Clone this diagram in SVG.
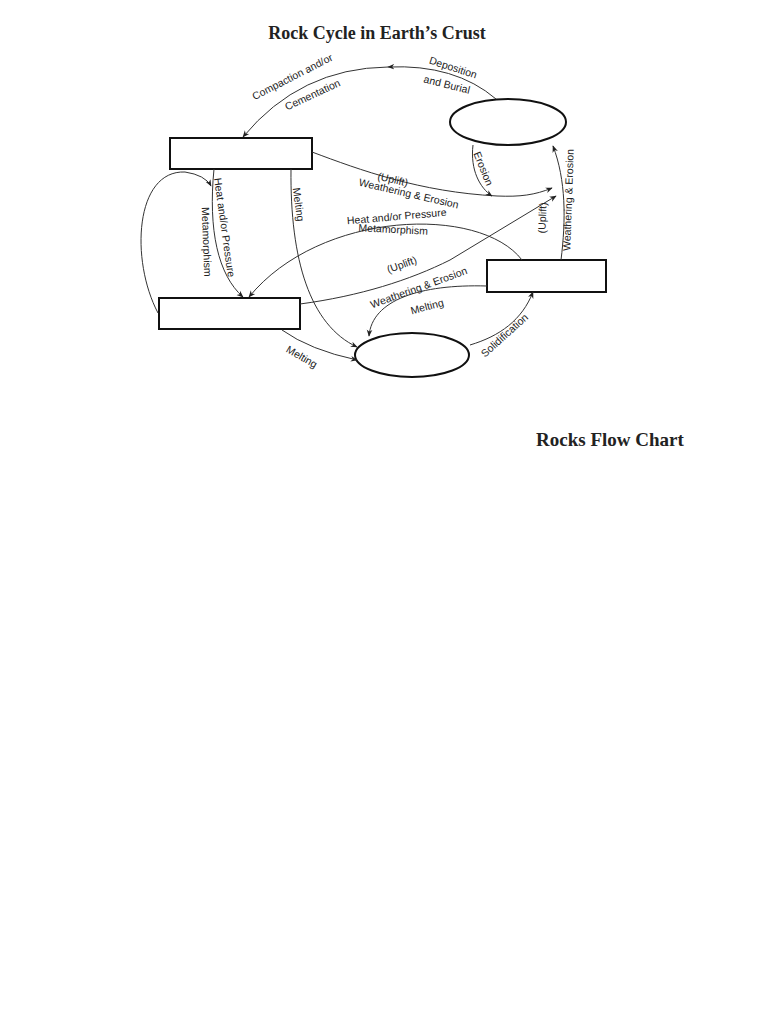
<svg xmlns="http://www.w3.org/2000/svg" width="768" height="1024" viewBox="0 0 768 1024">
<defs>
<marker id="ah" viewBox="0 0 10 10" refX="9" refY="5" markerWidth="7" markerHeight="7" orient="auto"><path d="M0,1 L10,5 L0,9 L3,5 z" fill="#222"/></marker>
<style>
.n{fill:#fff;stroke:#111;stroke-width:2}
.c{fill:none;stroke:#333;stroke-width:1;marker-end:url(#ah)}
.c2{fill:none;stroke:#333;stroke-width:1}
.l{font-family:"Liberation Sans",Arial,sans-serif;font-size:10.5px;fill:#222;text-anchor:middle}
.t{font-family:"Liberation Serif","Times New Roman",serif;font-weight:bold;fill:#222}
</style>
</defs>
<rect width="768" height="1024" fill="#fff"/>
<text class="t" x="377" y="39" font-size="18" text-anchor="middle">Rock Cycle in Earth’s Crust</text>
<text class="t" x="610" y="446" font-size="19" text-anchor="middle">Rocks Flow Chart</text>
<g id="sediment"><ellipse class="n" cx="508" cy="122" rx="58" ry="23"/></g>
<g id="sedrock"><rect class="n" x="170" y="138" width="142" height="31"/></g>
<g id="metrock"><rect class="n" x="159" y="298" width="141" height="31"/></g>
<g id="igrock"><rect class="n" x="487" y="260" width="119" height="32"/></g>
<g id="magma"><ellipse class="n" cx="412" cy="355" rx="57" ry="22"/></g>
<g id="connectors">
<path class="c" d="M496,99 Q455,64 388,67"/>
<path class="c" d="M388,67 Q300,68 243,137"/>
<path class="c2" d="M312,152 C360,170 420,192 497,196"/>
<path class="c" d="M497,196 C520,197 535,195 552,188"/>
<path class="c" d="M473,145 C470,170 480,188 492,196"/>
<path class="c" d="M561,260 C566,220 566,180 553,146"/>
<path class="c" d="M300,304 C360,296 410,280 450,260 L556,196"/>
<path class="c" d="M522,260 C480,205 320,210 249,297"/>
<path class="c" d="M214,169 C208,230 218,275 243,297"/>
<path class="c" d="M158,313 C130,260 135,170 185,172 Q205,175 211,186"/>
<path class="c" d="M291,169 C290,260 310,325 357,347"/>
<path class="c" d="M282,330 Q310,350 357,360"/>
<path class="c" d="M487,286 C420,284 372,300 369,336"/>
<path class="c" d="M470,345 C500,336 522,320 533,292"/>
</g>
<g id="labels">
<text class="l" transform="translate(452,71) rotate(18)">Deposition</text>
<text class="l" transform="translate(446,88) rotate(14)">and Burial</text>
<text class="l" transform="translate(294,80) rotate(-27)">Compaction and/or</text>
<text class="l" transform="translate(314,98) rotate(-25)">Cementation</text>
<text class="l" transform="translate(392,183) rotate(13)">(Uplift)</text>
<text class="l" transform="translate(408,197) rotate(13)">Weathering &amp; Erosion</text>
<text class="l" transform="translate(480,170) rotate(68)">Erosion</text>
<text class="l" transform="translate(397,220) rotate(-5)">Heat and/or Pressure</text>
<text class="l" transform="translate(393,233) rotate(3)">Metamorphism</text>
<text class="l" transform="translate(403,268) rotate(-20)">(Uplift)</text>
<text class="l" transform="translate(420,291) rotate(-20)">Weathering &amp; Erosion</text>
<text class="l" transform="translate(546,218) rotate(-88)">(Uplift)</text>
<text class="l" transform="translate(572,200) rotate(-88)">Weathering &amp; Erosion</text>
<text class="l" transform="translate(221,228) rotate(82)">Heat and/or Pressure</text>
<text class="l" transform="translate(203,242) rotate(88)">Metamorphism</text>
<text class="l" transform="translate(295,205) rotate(82)">Melting</text>
<text class="l" transform="translate(300,360) rotate(30)">Melting</text>
<text class="l" transform="translate(428,310) rotate(-15)">Melting</text>
<text class="l" transform="translate(507,338) rotate(-42)">Solidification</text>
</g>
</svg>
